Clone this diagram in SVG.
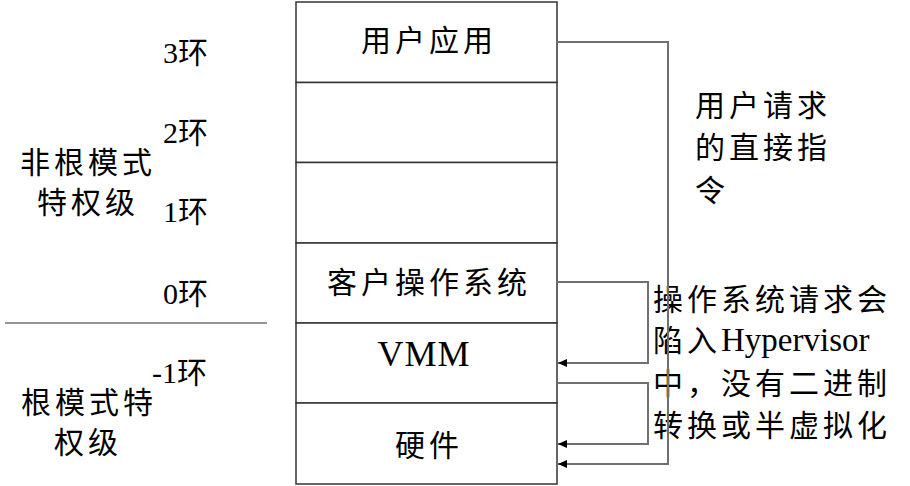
<svg xmlns="http://www.w3.org/2000/svg" width="910" height="486" viewBox="0 0 910 486">
<defs>
<style>
.t{font-family:"Liberation Serif","Noto Sans CJK SC",serif;font-size:30px;fill:#000;dominant-baseline:central}
.c{letter-spacing:4px}
.box{fill:#fff;stroke:#333;stroke-width:1.5}
.con{fill:none;stroke:#707070;stroke-width:2}
.sep{stroke:#707070;stroke-width:1.5}
</style>
<marker id="arr" markerWidth="10" markerHeight="10" refX="9" refY="5" orient="auto" markerUnits="userSpaceOnUse">
<path d="M0,1 L9,5 L0,9 Z" fill="#000"/>
</marker>
</defs>
<rect width="910" height="486" fill="#fff"/>
<g id="n-app"><rect class="box" x="296" y="2" width="261" height="80.5"/><text class="t c" x="429" y="40" text-anchor="middle">用户应用</text></g>
<g id="n-ring2"><rect class="box" x="296" y="82.5" width="261" height="80"/></g>
<g id="n-ring1"><rect class="box" x="296" y="162.5" width="261" height="80.5"/></g>
<g id="n-guestos"><rect class="box" x="296" y="243" width="261" height="80"/><text class="t c" x="429" y="282" text-anchor="middle">客户操作系统</text></g>
<g id="n-vmm"><rect class="box" x="296" y="323" width="261" height="80"/><text class="t" x="424" y="354" text-anchor="middle" style="font-size:36px;letter-spacing:1px">VMM</text></g>
<g id="n-hw"><rect class="box" x="296" y="403" width="261" height="81"/><text class="t c" x="429" y="445" text-anchor="middle">硬件</text></g>
<g id="labels">
<text class="t" x="163" y="52">3环</text>
<text class="t" x="163" y="132">2环</text>
<text class="t" x="163" y="211">1环</text>
<text class="t" x="163" y="293">0环</text>
<text class="t" x="152" y="372">-1环</text>
<text class="t c" x="88" y="162" text-anchor="middle">非根模式</text>
<text class="t c" x="88" y="202" text-anchor="middle">特权级</text>
<text class="t c" x="89" y="402" text-anchor="middle">根模式特</text>
<text class="t c" x="88" y="442" text-anchor="middle">权级</text>
<line class="sep" x1="5" y1="323" x2="267" y2="323"/>
<text class="t c" x="695" y="105">用户请求</text>
<text class="t c" x="695" y="147">的直接指</text>
<text class="t c" x="695" y="190">令</text>
<text class="t c" x="653" y="299">操作系统请求会</text>
<text class="t" x="653" y="340"><tspan class="c">陷入</tspan><tspan style="font-size:33px">Hypervisor</tspan></text>
<text class="t c" x="653" y="383">中，没有二进制</text>
<text class="t c" x="653" y="425">转换或半虚拟化</text>
</g>
<g id="connectors">
<path class="con" d="M557,42 H668 V464 H558" marker-end="url(#arr)"/>
<path class="con" d="M557,282 H648 V363 H558" marker-end="url(#arr)"/>
<path class="con" d="M557,383 H648 V444 H558" marker-end="url(#arr)"/>
</g>
</svg>
